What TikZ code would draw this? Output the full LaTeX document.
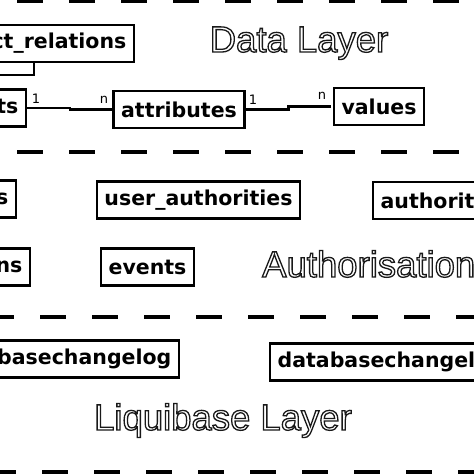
\documentclass[tikz,border=0pt]{standalone}
\usepackage{fontspec}
\newfontfamily\boxfont{DejaVu Sans}
\newfontfamily\layerfont{Liberation Sans}
\newcommand\outlinedtext[1]{\special{pdf:literal direct 1 Tr 1.3 w}#1\special{pdf:literal direct 0 Tr}}
\tikzset{
  table/.style={draw=black, line width=2.3pt, fill=white, minimum height=37pt, inner xsep=7.5pt, inner ysep=0pt,
    font=\boxfont\bfseries\fontsize{20.5}{22}\selectfont},
  conn/.style={draw=black, line width=2.3pt},
  card/.style={font=\boxfont\fontsize{13}{14}\selectfont, anchor=base, inner sep=0pt},
  layer/.style={font=\layerfont\fontsize{36.5}{40}\selectfont, inner sep=0pt, text=black!90},
  sep/.style={draw=black, line width=4pt, dash pattern=on 26pt off 26pt}
}
\begin{document}
\begin{tikzpicture}[x=1pt,y=-1pt]
\useasboundingbox (0,0) rectangle (474,474);
\clip (0,0) rectangle (474,474);
\fill[white] (0,0) rectangle (474,474);
% separators
\draw[sep] (17,1) -- (520,1);
\draw[sep] (17,152) -- (520,152);
\draw[sep] (-12,317) -- (520,317);
\draw[sep] (-10,472) -- (520,472);
% data layer
\node[table, anchor=east] (objrel) at (135,43.5) {object\_relations};
\node[table, anchor=east] (objects) at (27,108) {objects};
\node[table] (attributes) at (179,109.5) {attributes};
\node[table] (values) at (379,106.5) {values};
\coordinate (relend) at (-10,75);
\draw[conn] (objrel.south -| 34,0) |- (relend);
\draw[conn] (objects.east) -- ++(43,0) |- (attributes.west);
\draw[conn] (attributes.east) -- ++(43,0) |- ([xshift=-2pt]values.west);
\node[card] (c1) at (36,103) {1};
\node[card] (c2) at (104,103.5) {n};
\node[card] (c3) at (253,104) {1};
\node[card] (c4) at (322,99) {n};
\node[layer, anchor=base] (datalayer) at (299,52) {\outlinedtext{Data Layer}};
% authorisation layer
\node[table, anchor=east] (users) at (17,199) {users};
\node[table] (userauth) at (198.5,200) {user\_authorities};
\node[table, anchor=west] (authorities) at (372,200.5) {authorities};
\node[table, anchor=east] (perms) at (31,267) {permissions};
\node[table] (events) at (147.5,267) {events};
\node[layer, anchor=base west] (authlayer) at (262,277) {\outlinedtext{Authorisation Layer}};
% liquibase layer
\node[table, anchor=east] (dbcl) at (180,359) {databasechangelog};
\node[table, anchor=west] (dbcllock) at (269,362) {databasechangeloglock};
\node[layer, anchor=base] (liqlayer) at (223,430) {\outlinedtext{Liquibase Layer}};
\end{tikzpicture}
\end{document}
